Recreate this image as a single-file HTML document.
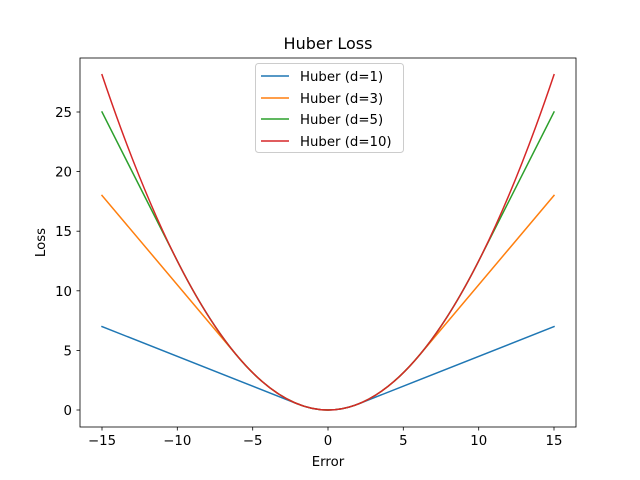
<!DOCTYPE html>
<html><head><meta charset="utf-8"><style>body{margin:0;background:#fff}svg{display:block}text{font-family:"DejaVu Sans","Liberation Sans",sans-serif;fill:#000}</style></head><body>
<svg width="640" height="480" viewBox="0 0 640 480" xmlns="http://www.w3.org/2000/svg">
<rect width="640" height="480" fill="#fff"/>
<g fill="none" stroke-width="1.5" stroke-linecap="square">
<path stroke="#1f77b4" d="M102,326.6 L297.87,404.04 Q328,415.96 358.13,404.04 L554,326.6"/>
<path stroke="#ff7f0e" d="M102,195.44 L237.6,356.36 Q328,463.64 418.4,356.36 L554,195.44"/>
<path stroke="#2ca02c" d="M102,112 L177.33,261 Q328,559 478.67,261 L554,112"/>
<path stroke="#d62728" d="M102,74.75 Q328,745.25 554,74.75"/>
</g>
<rect x="80" y="58" width="496" height="369" fill="none" stroke="#000" stroke-width="0.8"/>
<g stroke="#000" stroke-width="0.8">
<line x1="102" y1="427" x2="102" y2="430.5"/><line x1="177.3" y1="427" x2="177.3" y2="430.5"/><line x1="252.7" y1="427" x2="252.7" y2="430.5"/><line x1="328" y1="427" x2="328" y2="430.5"/><line x1="403.3" y1="427" x2="403.3" y2="430.5"/><line x1="478.7" y1="427" x2="478.7" y2="430.5"/><line x1="554" y1="427" x2="554" y2="430.5"/>
<line x1="76.5" y1="410" x2="80" y2="410"/><line x1="76.5" y1="350.4" x2="80" y2="350.4"/><line x1="76.5" y1="290.8" x2="80" y2="290.8"/><line x1="76.5" y1="231.2" x2="80" y2="231.2"/><line x1="76.5" y1="171.6" x2="80" y2="171.6"/><line x1="76.5" y1="112" x2="80" y2="112"/>
</g>
<g font-size="13.3" text-anchor="middle">
<text x="102" y="445">−15</text><text x="177.3" y="445">−10</text><text x="252.7" y="445">−5</text><text x="328" y="445">0</text><text x="403.3" y="445">5</text><text x="478.7" y="445">10</text><text x="554" y="445">15</text>
</g>
<g font-size="13.3" text-anchor="end">
<text x="72" y="415">0</text><text x="72" y="355.4">5</text><text x="72" y="295.8">10</text><text x="72" y="236.2">15</text><text x="72" y="176.6">20</text><text x="72" y="117">25</text>
</g>
<text x="328" y="466" font-size="13.3" text-anchor="middle">Error</text>
<text transform="translate(45,242.5) rotate(-90)" font-size="13.3" text-anchor="middle">Loss</text>
<text x="328" y="49" font-size="16" text-anchor="middle">Huber Loss</text>
<rect x="255.5" y="63.5" width="148" height="89" rx="3" fill="#fff" fill-opacity="0.8" stroke="#ccc"/>
<g stroke-width="1.5"><line x1="261" y1="76" x2="289" y2="76" stroke="#1f77b4"/><line x1="261" y1="98" x2="289" y2="98" stroke="#ff7f0e"/><line x1="261" y1="119" x2="289" y2="119" stroke="#2ca02c"/><line x1="261" y1="141" x2="289" y2="141" stroke="#d62728"/></g>
<g font-size="13.3"><text x="300" y="81">Huber (d=1)</text><text x="300" y="103">Huber (d=3)</text><text x="300" y="124">Huber (d=5)</text><text x="300" y="146">Huber (d=10)</text></g>
</svg>
</body></html>
